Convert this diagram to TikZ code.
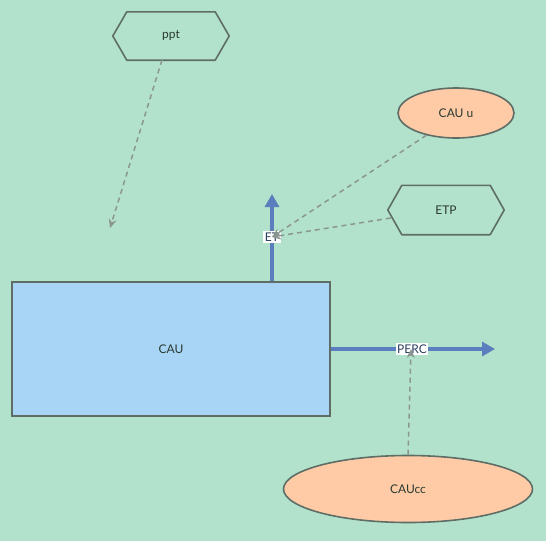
\documentclass[tikz,border=0pt]{standalone}
\usepackage{fontspec}
\setmainfont{Lato}
\usetikzlibrary{arrows.meta,shapes.geometric}
\definecolor{bg}{HTML}{B2E2CC}
\definecolor{edge}{HTML}{5E6E66}
\definecolor{dash}{HTML}{8C9690}
\definecolor{flow}{HTML}{5B7FBE}
\definecolor{peach}{HTML}{FFCBA6}
\definecolor{stock}{HTML}{A8D5F5}
\definecolor{txt}{HTML}{2A3A30}
\begin{document}
\begin{tikzpicture}[x=1pt,y=-1pt,
  every node/.style={font=\fontsize{12}{14}\selectfont, text=txt},
  hexbox/.style={minimum width=116pt, minimum height=48pt, inner sep=0pt},
  hexline/.style={draw=edge, line width=1.6pt, line join=round},
  ellbox/.style={ellipse, draw=edge, fill=peach, line width=1.6pt, inner sep=0pt},
  stockbox/.style={rectangle, draw=edge, fill=stock, line width=1.6pt, minimum width=318pt, minimum height=134pt},
  infl/.style={draw=dash, dashed, line width=1.5pt, dash pattern=on 5pt off 4pt, -{Stealth[length=9pt,width=8pt,inset=3pt]}},
  flowarr/.style={draw=flow, line width=3.2pt, -{Triangle[length=13pt,width=14pt]}},
  lab/.style={fill=white, inner sep=1.5pt, text=flow!50!black}
]
\fill[bg] (0,0) rectangle (546,541);
\useasboundingbox (0,0) rectangle (546,541);

% ppt hexagon
\node[hexbox] (ppt) at (171,36) {ppt};
\draw[hexline] (ppt.west) -- ([xshift=14pt]ppt.north west) -- ([xshift=-14pt]ppt.north east) -- (ppt.east) -- ([xshift=-14pt]ppt.south east) -- ([xshift=14pt]ppt.south west) -- cycle;
\coordinate (pptend) at (110,228);
\draw[infl] (162,60) -- (pptend);

% ETP hexagon
\node[hexbox, minimum height=49pt] (etp) at (446,210) {ETP};
\draw[hexline] (etp.west) -- ([xshift=14pt]etp.north west) -- ([xshift=-14pt]etp.north east) -- (etp.east) -- ([xshift=-14pt]etp.south east) -- ([xshift=14pt]etp.south west) -- cycle;

% ellipses
\node[ellbox, minimum width=116pt, minimum height=50pt] (cauu) at (456,113) {CAU u};
\node[ellbox, minimum width=249pt, minimum height=67pt] (caucc) at (408,489) {CAUcc};

% stock
\node[stockbox] (cau) at (171,349) {CAU};

% ET flow
\coordinate (etbase) at (272,281);
\coordinate (ettop) at (272,194);
\draw[flowarr] (etbase) -- (ettop);
\node[lab] (et) at (272,237) {ET};

% PERC flow
\coordinate (perctip) at (495,349);
\draw[flowarr] (cau.east |- 0,349) -- (perctip);
\node[lab] (perc) at (412,349) {PERC};

% influences
\draw[infl] (cauu.south west) ++(12,4) coordinate (cauus) (cauus) -- (et.center);
\draw[infl] (etp.west) ++(3,8) coordinate (etpw) (etpw) -- (et.center);
\draw[infl] (caucc.north) -- ([xshift=-1pt]perc.center);
\end{tikzpicture}
\end{document}
